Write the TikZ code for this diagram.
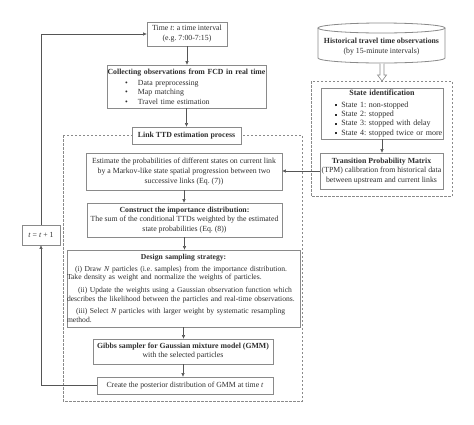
\documentclass[tikz,border=0pt]{standalone}
\usepackage{fontspec}
\setmainfont{Liberation Serif}
\usetikzlibrary{arrows.meta}
\definecolor{boxgray}{HTML}{8A8A8A}
\definecolor{linegray}{HTML}{555555}
\definecolor{txt}{HTML}{2E2E2E}
\newcommand{\fsz}{\fontsize{7.8}{9.8}\selectfont}
\newcommand{\sqb}{\rule[0.7pt]{2.2pt}{2.2pt}}
\newcommand{\bul}{\makebox[13pt][l]{\textbullet}}
\frenchspacing
\begin{document}
\frenchspacing
\begin{tikzpicture}[x=1pt,y=-1pt,
  box/.style={draw=boxgray, fill=white, line width=0.8pt, inner sep=0pt, align=center, font=\fsz, text=txt},
  conn/.style={draw=linegray, line width=0.6pt, -{Triangle[length=3.5pt,width=3pt]}},
  dashbox/.style={draw=boxgray, line width=0.7pt, dash pattern=on 2.5pt off 1.5pt}]
\useasboundingbox (0,0) rectangle (474,424);

% dashed groups
\draw[dashbox] (63,135) rectangle (302,401);
\draw[dashbox] (311,81) rectangle (452,196);

% historical cylinder
\draw[boxgray, fill=white, line width=0.8pt] (318,28) -- (318,58) arc[start angle=180, end angle=0, x radius=63.5, y radius=5] -- (445,28);
\draw[boxgray, fill=white, line width=0.8pt] (381.5,28) ellipse[x radius=63.5, y radius=5];
\node[font=\fsz, text=txt, align=center, inner sep=0pt] (hist) at (381.5,46.5)
  {\textbf{Historical travel time observations}\\(by 15-minute intervals)};
\draw[boxgray, fill=white, line width=0.6pt] (380,63.5) -- (380,75) -- (377.5,75) -- (382,81) -- (386.5,75) -- (384,75) -- (384,63.5);

% main column
\node[box, minimum width=80pt, minimum height=24pt] (time) at (187,34)
  {Time \textit{t}: a time interval\\(e.g. 7:00-7:15)};
\node[box, minimum width=159pt, text width=159pt, minimum height=43pt, align=left, font=\fontsize{7.8}{9.5}\selectfont] (collect) at (186.5,86.5)
  {\makebox[159pt]{\textbf{Collecting observations from FCD in real time}}\\[1.5pt]
   \hspace*{18pt}\bul Data preprocessing\\
   \hspace*{18pt}\bul Map matching\\
   \hspace*{18pt}\bul Travel time estimation};
\node[box, minimum width=109pt, minimum height=17pt] (link) at (186.5,135.5)
  {\textbf{Link TTD estimation process}};
\node[box, minimum width=196pt, minimum height=37pt, font=\fontsize{7.8}{9.7}\selectfont] (est) at (184,171.5)
  {Estimate the probabilities of different states on current link\\by a Markov-like state spatial progression between two\\successive links (Eq. (7))};
\node[box, minimum width=195pt, minimum height=34pt, font=\fontsize{7.8}{9.3}\selectfont] (cons) at (184.5,220)
  {\textbf{Construct the importance distribution:}\\The sum of the conditional TTDs weighted by the estimated\\state probabilities (Eq. (8))};
\node[box, minimum width=233pt, text width=233pt, minimum height=77pt, align=left, font=\fontsize{7.6}{8.6}\selectfont] (design) at (183.5,288.5)
  {\makebox[233pt]{\textbf{Design sampling strategy:}}\\[3pt]
   \mbox{\hspace*{8pt}(i) Draw \textit{N} particles (i.e. samples) from the importance distribution.}\\
   \mbox{Take density as weight and normalize the weights of particles.}\\[4pt]
   \mbox{\hspace*{11pt}(ii) Update the weights using a Gaussian observation function which}\\
   \mbox{describes the likelihood between the particles and real-time observations.}\\[4pt]
   \mbox{\hspace*{9pt}(iii) Select \textit{N} particles with larger weight by systematic resampling}\\
   \mbox{method.}};
\node[box, minimum width=180pt, minimum height=25pt, font=\fontsize{7.8}{9}\selectfont] (gibbs) at (183,351.5)
  {\textbf{Gibbs sampler for Gaussian mixture model (GMM)}\\with the selected particles};
\node[box, minimum width=176pt, minimum height=17pt] (create) at (185,385.5)
  {Create the posterior distribution of GMM at time \textit{t}};
\node[box, minimum width=38pt, minimum height=20pt] (tt) at (41,235)
  {\textit{t} = \textit{t} + 1};

% right column
\node[box, minimum width=122pt, text width=122pt, minimum height=51pt, align=left, font=\fontsize{8}{9.3}\selectfont] (stateid) at (382,113.5)
  {\makebox[122pt]{\textbf{State identification}}\\[2pt]
   \mbox{\hspace*{14pt}\sqb\hspace{1.5pt} State 1: non-stopped}\\
   \mbox{\hspace*{14pt}\sqb\hspace{1.5pt} State 2: stopped}\\
   \mbox{\hspace*{14pt}\sqb\hspace{1.5pt} State 3: stopped with delay}\\
   \mbox{\hspace*{14pt}\sqb\hspace{1.5pt} State 4: stopped twice or more}};
\node[box, minimum width=123pt, minimum height=36pt, font=\fontsize{7.8}{9.5}\selectfont] (tpm) at (381.5,171)
  {\textbf{Transition Probability Matrix}\\(TPM) calibration from historical data\\between upstream and current links};

% connectors
\draw[conn] (time.south) -- (time.south |- collect.north);
\draw[conn] (collect.south) -- (collect.south |- link.north);
\draw[conn] (est.south) -- (est.south |- cons.north);
\draw[conn] (cons.south) -- (cons.south |- design.north);
\draw[conn] (design.south) -- (design.south |- gibbs.north);
\draw[conn] (gibbs.south) -- (gibbs.south |- create.north);
\draw[conn] (stateid.south) -- (stateid.south |- tpm.north);
\draw[conn] (tpm.west) -- (tpm.west -| est.east);
\draw[conn] (create.west) -| (tt.south);
\draw[conn] (tt.north) |- (time.west);
\end{tikzpicture}
\end{document}
